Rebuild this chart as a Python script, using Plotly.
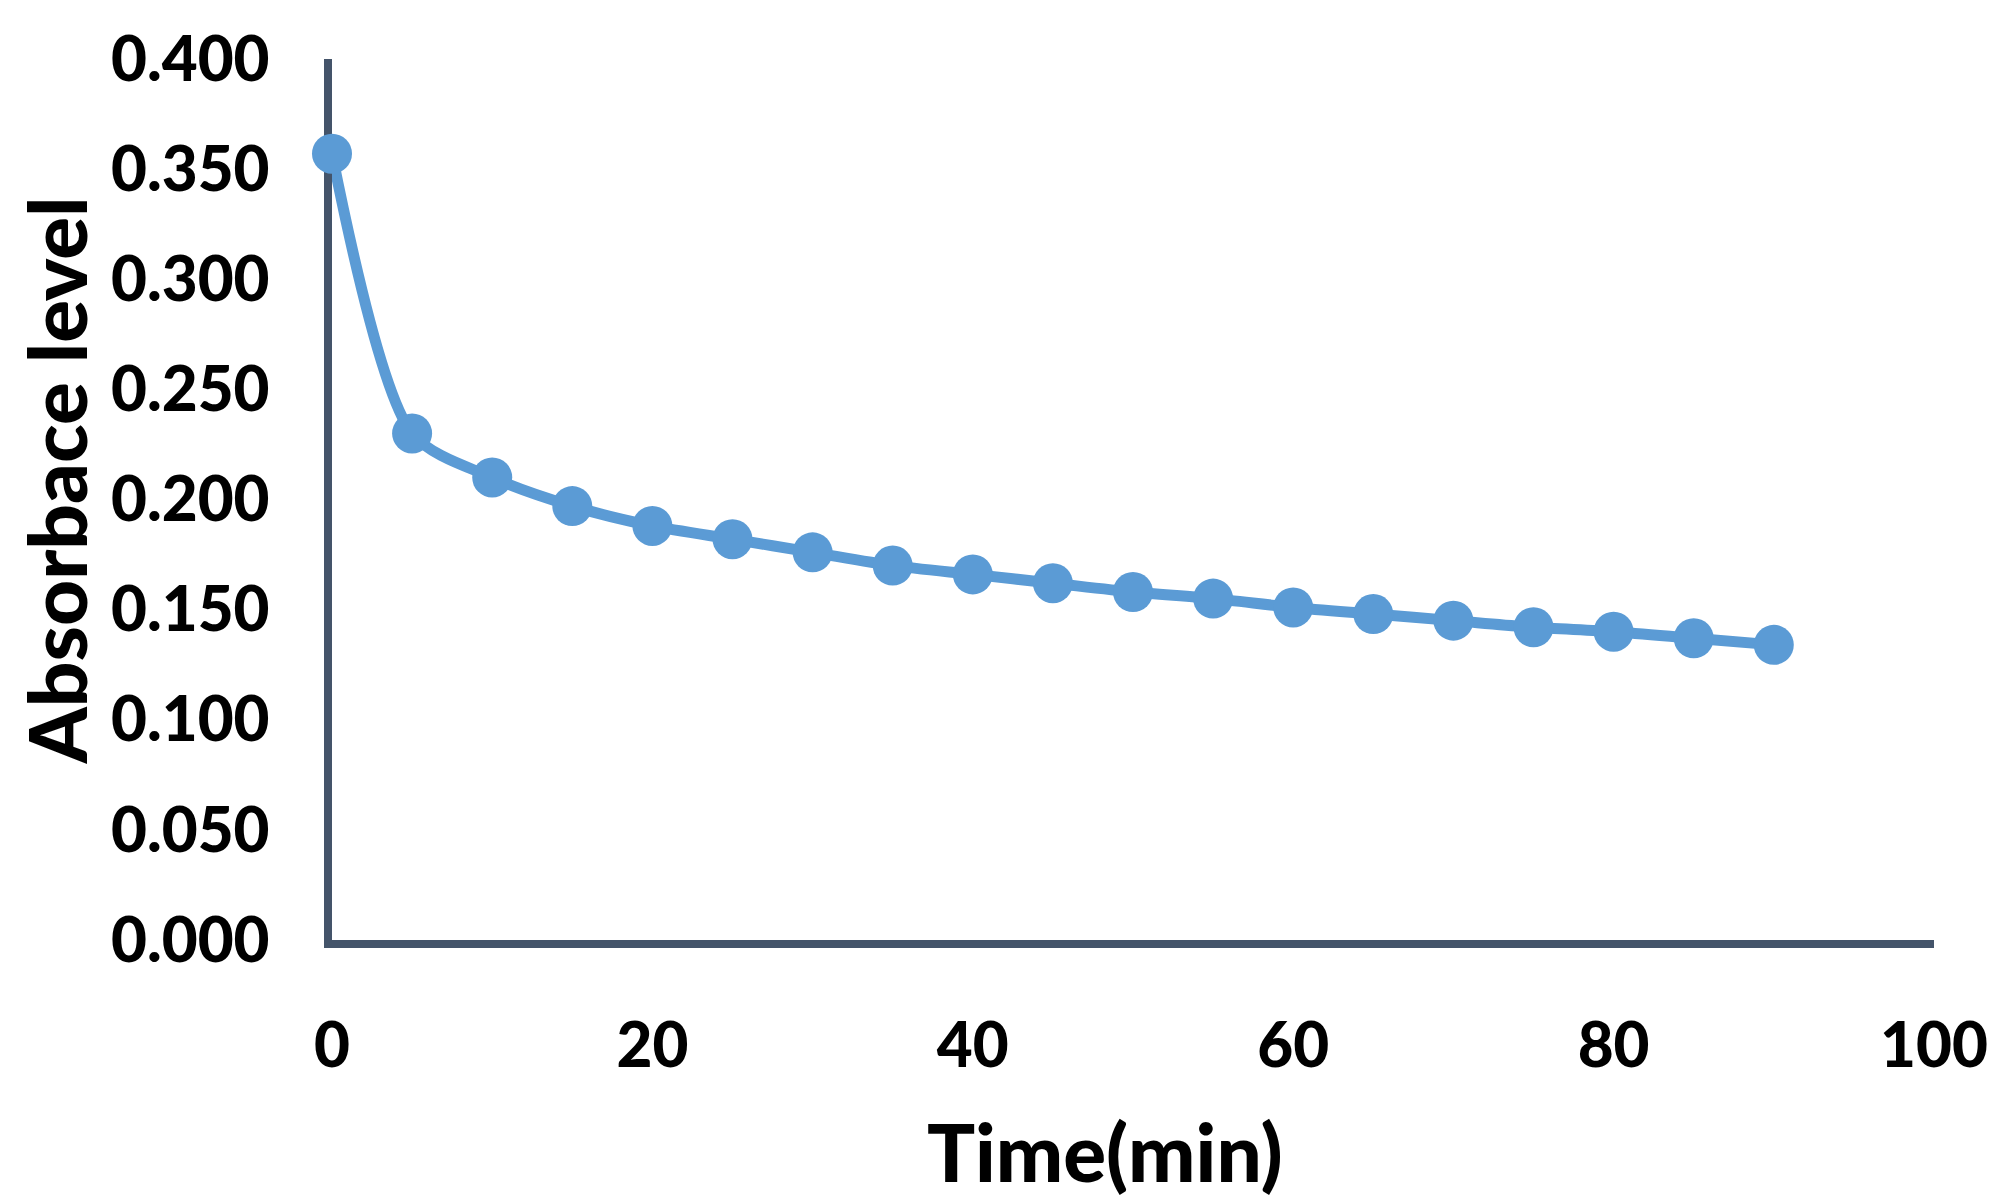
import plotly.graph_objects as go

# absorbance readings over time
time_min = [0, 5, 10, 15, 20, 25, 30, 35, 40, 45, 50, 55, 60, 65, 70, 75, 80, 85, 90]
absorbance = [0.357, 0.230, 0.210, 0.197, 0.188, 0.182, 0.176, 0.170, 0.166, 0.162,
              0.158, 0.155, 0.151, 0.148, 0.145, 0.142, 0.140, 0.137, 0.134]

x_ticks = [0, 20, 40, 60, 80, 100]
y_ticks = [0.0, 0.05, 0.10, 0.15, 0.20, 0.25, 0.30, 0.35, 0.40]

blue = '#5B9BD5'
axis_col = '#44546A'
font_name = 'Lato'

fig = go.Figure()
fig.add_trace(go.Scatter(x=time_min, y=absorbance, mode='lines+markers',
                         line=dict(color=blue, width=11, shape='spline', smoothing=0.8),
                         marker=dict(color=blue, size=40),
                         cliponaxis=False, showlegend=False))

fig.update_xaxes(range=[0, 100], tickvals=x_ticks, showgrid=False, zeroline=False,
                 showline=True, linecolor=axis_col, linewidth=8, layer='below traces',
                 ticks='', ticklabelstandoff=45, ticklabeloverflow='allow',
                 tickfont=dict(family=font_name, size=62, color='black', weight=900))
fig.update_yaxes(range=[0, 0.4], tickvals=y_ticks, tickformat='.3f', showgrid=False,
                 zeroline=False, showline=True, linecolor=axis_col, linewidth=8,
                 layer='below traces', ticks='', ticklabelstandoff=42,
                 ticklabeloverflow='allow',
                 tickfont=dict(family=font_name, size=62, color='black', weight=900))

# axis titles as annotations so they sit where the original has them
fig.add_annotation(text='Time(min)', xref='paper', yref='paper', x=0.4826, y=-0.2392,
                   xanchor='center', yanchor='middle', showarrow=False,
                   font=dict(family=font_name, size=80, color='black', weight=900))
fig.add_annotation(text='Absorbace level', xref='paper', yref='paper', x=-0.1718, y=0.5216,
                   xanchor='center', yanchor='middle', showarrow=False, textangle=-90,
                   font=dict(family=font_name, size=80, color='black', weight=900))

# page body has an 8px margin, so the figure is shifted by that much
fig.update_layout(width=1992, height=1196, plot_bgcolor='white', paper_bgcolor='white',
                  margin=dict(l=324, r=63, t=31, b=264))

fig.write_html("out.html")
